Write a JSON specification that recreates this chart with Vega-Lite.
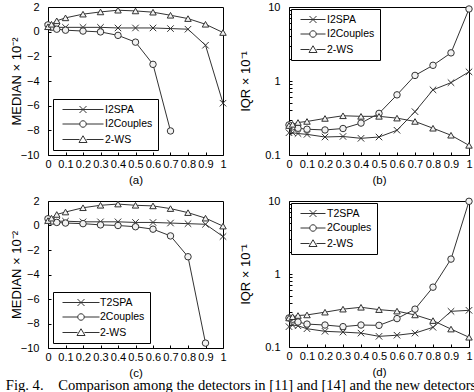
{
  "$schema": "https://vega.github.io/schema/vega-lite/v6.json",
  "padding": {"left": 5, "top": 0, "right": 0, "bottom": 0},
  "background": "white",
  "title": {"text": "Fig. 4.\u00a0\u00a0\u00a0\u00a0Comparison among the detectors in [11] and [14] and the new detectors", "orient": "bottom", "anchor": "start", "font": "Liberation Serif", "fontSize": 14.6, "fontWeight": "normal", "color": "#000", "offset": -1, "dx": -4},
  "datasets": {
    "a": [
      {"s": "I2SPA", "x": 0, "y": 0.4}, {"s": "I2SPA", "x": 0.02, "y": 0.4}, {"s": "I2SPA", "x": 0.05, "y": 0.35}, {"s": "I2SPA", "x": 0.1, "y": 0.35}, {"s": "I2SPA", "x": 0.2, "y": 0.35}, {"s": "I2SPA", "x": 0.3, "y": 0.35}, {"s": "I2SPA", "x": 0.4, "y": 0.3}, {"s": "I2SPA", "x": 0.5, "y": 0.3}, {"s": "I2SPA", "x": 0.6, "y": 0.3}, {"s": "I2SPA", "x": 0.7, "y": 0.25}, {"s": "I2SPA", "x": 0.8, "y": 0.2}, {"s": "I2SPA", "x": 0.9, "y": -1.1}, {"s": "I2SPA", "x": 1, "y": -5.8},
      {"s": "I2Couples", "x": 0, "y": 0.55}, {"s": "I2Couples", "x": 0.02, "y": 0.35}, {"s": "I2Couples", "x": 0.05, "y": 0.2}, {"s": "I2Couples", "x": 0.1, "y": 0.12}, {"s": "I2Couples", "x": 0.2, "y": 0.05}, {"s": "I2Couples", "x": 0.3, "y": -0.02}, {"s": "I2Couples", "x": 0.4, "y": -0.3}, {"s": "I2Couples", "x": 0.5, "y": -0.85}, {"s": "I2Couples", "x": 0.6, "y": -2.65}, {"s": "I2Couples", "x": 0.7, "y": -8.05},
      {"s": "2-WS", "x": 0, "y": 0.4}, {"s": "2-WS", "x": 0.02, "y": 0.6}, {"s": "2-WS", "x": 0.05, "y": 0.88}, {"s": "2-WS", "x": 0.1, "y": 1.12}, {"s": "2-WS", "x": 0.2, "y": 1.42}, {"s": "2-WS", "x": 0.3, "y": 1.6}, {"s": "2-WS", "x": 0.4, "y": 1.74}, {"s": "2-WS", "x": 0.5, "y": 1.68}, {"s": "2-WS", "x": 0.6, "y": 1.58}, {"s": "2-WS", "x": 0.7, "y": 1.33}, {"s": "2-WS", "x": 0.8, "y": 1.06}, {"s": "2-WS", "x": 0.9, "y": 0.6}, {"s": "2-WS", "x": 1, "y": -0.07}
    ],
    "b": [
      {"s": "I2SPA", "x": 0, "y": 0.2}, {"s": "I2SPA", "x": 0.02, "y": 0.2}, {"s": "I2SPA", "x": 0.05, "y": 0.195}, {"s": "I2SPA", "x": 0.1, "y": 0.19}, {"s": "I2SPA", "x": 0.2, "y": 0.175}, {"s": "I2SPA", "x": 0.3, "y": 0.178}, {"s": "I2SPA", "x": 0.4, "y": 0.168}, {"s": "I2SPA", "x": 0.5, "y": 0.175}, {"s": "I2SPA", "x": 0.6, "y": 0.216}, {"s": "I2SPA", "x": 0.7, "y": 0.385}, {"s": "I2SPA", "x": 0.8, "y": 0.76}, {"s": "I2SPA", "x": 0.9, "y": 0.95}, {"s": "I2SPA", "x": 1, "y": 1.33},
      {"s": "I2Couples", "x": 0, "y": 0.255}, {"s": "I2Couples", "x": 0.02, "y": 0.24}, {"s": "I2Couples", "x": 0.05, "y": 0.23}, {"s": "I2Couples", "x": 0.1, "y": 0.223}, {"s": "I2Couples", "x": 0.2, "y": 0.218}, {"s": "I2Couples", "x": 0.3, "y": 0.228}, {"s": "I2Couples", "x": 0.4, "y": 0.27}, {"s": "I2Couples", "x": 0.5, "y": 0.365}, {"s": "I2Couples", "x": 0.6, "y": 0.65}, {"s": "I2Couples", "x": 0.7, "y": 1.19}, {"s": "I2Couples", "x": 0.8, "y": 1.63}, {"s": "I2Couples", "x": 0.9, "y": 2.4}, {"s": "I2Couples", "x": 1, "y": 9.4},
      {"s": "2-WS", "x": 0, "y": 0.25}, {"s": "2-WS", "x": 0.02, "y": 0.26}, {"s": "2-WS", "x": 0.05, "y": 0.275}, {"s": "2-WS", "x": 0.1, "y": 0.284}, {"s": "2-WS", "x": 0.2, "y": 0.312}, {"s": "2-WS", "x": 0.3, "y": 0.339}, {"s": "2-WS", "x": 0.4, "y": 0.333}, {"s": "2-WS", "x": 0.5, "y": 0.333}, {"s": "2-WS", "x": 0.6, "y": 0.315}, {"s": "2-WS", "x": 0.7, "y": 0.284}, {"s": "2-WS", "x": 0.8, "y": 0.23}, {"s": "2-WS", "x": 0.9, "y": 0.185}, {"s": "2-WS", "x": 1, "y": 0.135}
    ],
    "c": [
      {"s": "T2SPA", "x": 0, "y": 0.4}, {"s": "T2SPA", "x": 0.02, "y": 0.4}, {"s": "T2SPA", "x": 0.05, "y": 0.35}, {"s": "T2SPA", "x": 0.1, "y": 0.35}, {"s": "T2SPA", "x": 0.2, "y": 0.3}, {"s": "T2SPA", "x": 0.3, "y": 0.3}, {"s": "T2SPA", "x": 0.4, "y": 0.3}, {"s": "T2SPA", "x": 0.5, "y": 0.25}, {"s": "T2SPA", "x": 0.6, "y": 0.25}, {"s": "T2SPA", "x": 0.7, "y": 0.2}, {"s": "T2SPA", "x": 0.8, "y": 0.15}, {"s": "T2SPA", "x": 0.9, "y": 0.1}, {"s": "T2SPA", "x": 1, "y": -0.9},
      {"s": "2Couples", "x": 0, "y": 0.55}, {"s": "2Couples", "x": 0.02, "y": 0.35}, {"s": "2Couples", "x": 0.05, "y": 0.25}, {"s": "2Couples", "x": 0.1, "y": 0.2}, {"s": "2Couples", "x": 0.2, "y": 0.15}, {"s": "2Couples", "x": 0.3, "y": 0.05}, {"s": "2Couples", "x": 0.4, "y": 0.0}, {"s": "2Couples", "x": 0.5, "y": -0.1}, {"s": "2Couples", "x": 0.6, "y": -0.3}, {"s": "2Couples", "x": 0.7, "y": -0.85}, {"s": "2Couples", "x": 0.8, "y": -2.55}, {"s": "2Couples", "x": 0.9, "y": -9.6},
      {"s": "2-WS", "x": 0, "y": 0.4}, {"s": "2-WS", "x": 0.02, "y": 0.6}, {"s": "2-WS", "x": 0.05, "y": 0.9}, {"s": "2-WS", "x": 0.1, "y": 1.1}, {"s": "2-WS", "x": 0.2, "y": 1.45}, {"s": "2-WS", "x": 0.3, "y": 1.65}, {"s": "2-WS", "x": 0.4, "y": 1.75}, {"s": "2-WS", "x": 0.5, "y": 1.65}, {"s": "2-WS", "x": 0.6, "y": 1.6}, {"s": "2-WS", "x": 0.7, "y": 1.38}, {"s": "2-WS", "x": 0.8, "y": 1.05}, {"s": "2-WS", "x": 0.9, "y": 0.6}, {"s": "2-WS", "x": 1, "y": -0.05}
    ],
    "d": [
      {"s": "T2SPA", "x": 0, "y": 0.19}, {"s": "T2SPA", "x": 0.02, "y": 0.2}, {"s": "T2SPA", "x": 0.05, "y": 0.195}, {"s": "T2SPA", "x": 0.1, "y": 0.178}, {"s": "T2SPA", "x": 0.2, "y": 0.164}, {"s": "T2SPA", "x": 0.3, "y": 0.16}, {"s": "T2SPA", "x": 0.4, "y": 0.155}, {"s": "T2SPA", "x": 0.5, "y": 0.14}, {"s": "T2SPA", "x": 0.6, "y": 0.145}, {"s": "T2SPA", "x": 0.7, "y": 0.155}, {"s": "T2SPA", "x": 0.8, "y": 0.186}, {"s": "T2SPA", "x": 0.9, "y": 0.308}, {"s": "T2SPA", "x": 1, "y": 0.318},
      {"s": "2Couples", "x": 0, "y": 0.25}, {"s": "2Couples", "x": 0.02, "y": 0.24}, {"s": "2Couples", "x": 0.05, "y": 0.22}, {"s": "2Couples", "x": 0.1, "y": 0.206}, {"s": "2Couples", "x": 0.2, "y": 0.2}, {"s": "2Couples", "x": 0.3, "y": 0.19}, {"s": "2Couples", "x": 0.4, "y": 0.2}, {"s": "2Couples", "x": 0.5, "y": 0.198}, {"s": "2Couples", "x": 0.6, "y": 0.245}, {"s": "2Couples", "x": 0.7, "y": 0.33}, {"s": "2Couples", "x": 0.8, "y": 0.66}, {"s": "2Couples", "x": 0.9, "y": 1.6}, {"s": "2Couples", "x": 1, "y": 9.9},
      {"s": "2-WS", "x": 0, "y": 0.25}, {"s": "2-WS", "x": 0.02, "y": 0.26}, {"s": "2-WS", "x": 0.05, "y": 0.27}, {"s": "2-WS", "x": 0.1, "y": 0.275}, {"s": "2-WS", "x": 0.2, "y": 0.3}, {"s": "2-WS", "x": 0.3, "y": 0.33}, {"s": "2-WS", "x": 0.4, "y": 0.35}, {"s": "2-WS", "x": 0.5, "y": 0.325}, {"s": "2-WS", "x": 0.6, "y": 0.31}, {"s": "2-WS", "x": 0.7, "y": 0.275}, {"s": "2-WS", "x": 0.8, "y": 0.23}, {"s": "2-WS", "x": 0.9, "y": 0.176}, {"s": "2-WS", "x": 1, "y": 0.136}
    ]
  },
  "vconcat": [
    {
      "hconcat": [
        {
          "width": 175, "height": 148,
          "data": {"name": "a"},
          "encoding": {
            "x": {"field": "x", "type": "quantitative", "scale": {"domain": [0, 1], "nice": false}, "axis": {"title": "(a)", "values": [0, 0.1, 0.2, 0.3, 0.4, 0.5, 0.6, 0.7, 0.8, 0.9, 1], "format": "~g"}},
            "y": {"field": "y", "type": "quantitative", "scale": {"domain": [-10, 2], "nice": false}, "axis": {"title": "MEDIAN × 10⁻²", "values": [-10, -8, -6, -4, -2, 0, 2], "titlePadding": -3}}
          },
          "layer": [
            {"mark": {"type": "line", "color": "#333", "strokeWidth": 1}, "encoding": {"detail": {"field": "s"}}},
            {"mark": {"type": "point", "filled": true, "fill": "#f2f2f2", "stroke": "#333", "strokeWidth": 1, "opacity": 1}, "encoding": {"shape": {"field": "s", "type": "nominal", "scale": {"domain": ["I2SPA", "I2Couples", "2-WS"], "range": ["M-1,-1L1,1M-1,1L1,-1", "circle", "triangle-up"]}, "legend": null}, "size": {"value": 42}}},
            {"transform": [{"filter": "false"}], "mark": {"type": "point", "filled": false, "color": "#333", "strokeWidth": 1}, "encoding": {"shape": {"field": "s", "type": "nominal", "scale": {"domain": ["I2SPA", "I2Couples", "2-WS"], "range": ["M-0.2,0H8M3.2,-0.7L4.6,0.7M3.2,0.7L4.6,-0.7", "M-0.2,0H3.25M4.55,0H8M4.55,0A0.65,0.65 0 1 1 3.25,0A0.65,0.65 0 1 1 4.55,0", "M-0.2,0H3.2M4.6,0H8M3.9,-0.75L4.7,0.6L3.1,0.6Z"]}, "legend": {"title": null, "orient": "bottom-left", "offset": 5, "labelOffset": 36}}}}
          ],
          "resolve": {"scale": {"shape": "independent"}}
        },
        {
          "width": 180, "height": 148,
          "data": {"name": "b"},
          "encoding": {
            "x": {"field": "x", "type": "quantitative", "scale": {"domain": [0, 1], "nice": false}, "axis": {"title": "(b)", "values": [0, 0.1, 0.2, 0.3, 0.4, 0.5, 0.6, 0.7, 0.8, 0.9, 1], "format": "~g"}},
            "y": {"field": "y", "type": "quantitative", "scale": {"type": "log", "domain": [0.1, 10], "nice": false}, "axis": {"title": "IQR × 10⁻¹", "values": [0.1, 0.2, 0.3, 0.4, 0.5, 0.6, 0.7, 0.8, 0.9, 1, 2, 3, 4, 5, 6, 7, 8, 9, 10], "labelExpr": "datum.value == 0.1 || datum.value == 1 || datum.value == 10 ? format(datum.value, '~g') : ''", "titlePadding": 12}}
          },
          "layer": [
            {"mark": {"type": "line", "color": "#333", "strokeWidth": 1}, "encoding": {"detail": {"field": "s"}}},
            {"mark": {"type": "point", "filled": true, "fill": "#f2f2f2", "stroke": "#333", "strokeWidth": 1, "opacity": 1}, "encoding": {"shape": {"field": "s", "type": "nominal", "scale": {"domain": ["I2SPA", "I2Couples", "2-WS"], "range": ["M-1,-1L1,1M-1,1L1,-1", "circle", "triangle-up"]}, "legend": null}, "size": {"value": 42}}},
            {"transform": [{"filter": "false"}], "mark": {"type": "point", "filled": false, "color": "#333", "strokeWidth": 1}, "encoding": {"shape": {"field": "s", "type": "nominal", "scale": {"domain": ["I2SPA", "I2Couples", "2-WS"], "range": ["M-0.2,0H4.8M1.6,-0.7L3,0.7M1.6,0.7L3,-0.7", "M-0.2,0H1.65M2.95,0H4.8M2.95,0A0.65,0.65 0 1 1 1.65,0A0.65,0.65 0 1 1 2.95,0", "M-0.2,0H1.6M3,0H4.8M2.3,-0.75L3.1,0.6L1.5,0.6Z"]}, "legend": {"title": null, "orient": "top-left", "offset": 2, "labelOffset": 20}}}}
          ],
          "resolve": {"scale": {"shape": "independent"}}
        }
      ]
    },
    {
      "hconcat": [
        {
          "width": 175, "height": 147,
          "data": {"name": "c"},
          "encoding": {
            "x": {"field": "x", "type": "quantitative", "scale": {"domain": [0, 1], "nice": false}, "axis": {"title": "(c)", "values": [0, 0.1, 0.2, 0.3, 0.4, 0.5, 0.6, 0.7, 0.8, 0.9, 1], "format": "~g"}},
            "y": {"field": "y", "type": "quantitative", "scale": {"domain": [-10, 2], "nice": false}, "axis": {"title": "MEDIAN × 10⁻²", "values": [-10, -8, -6, -4, -2, 0, 2], "titlePadding": -3}}
          },
          "layer": [
            {"mark": {"type": "line", "color": "#333", "strokeWidth": 1}, "encoding": {"detail": {"field": "s"}}},
            {"mark": {"type": "point", "filled": true, "fill": "#f2f2f2", "stroke": "#333", "strokeWidth": 1, "opacity": 1}, "encoding": {"shape": {"field": "s", "type": "nominal", "scale": {"domain": ["T2SPA", "2Couples", "2-WS"], "range": ["M-1,-1L1,1M-1,1L1,-1", "circle", "triangle-up"]}, "legend": null}, "size": {"value": 42}}},
            {"transform": [{"filter": "false"}], "mark": {"type": "point", "filled": false, "color": "#333", "strokeWidth": 1}, "encoding": {"shape": {"field": "s", "type": "nominal", "scale": {"domain": ["T2SPA", "2Couples", "2-WS"], "range": ["M-0.2,0H7.2M2.8,-0.7L4.2,0.7M2.8,0.7L4.2,-0.7", "M-0.2,0H2.85M4.15,0H7.2M4.15,0A0.65,0.65 0 1 1 2.85,0A0.65,0.65 0 1 1 4.15,0", "M-0.2,0H2.8M4.2,0H7.2M3.5,-0.75L4.3,0.6L2.7,0.6Z"]}, "legend": {"title": null, "orient": "bottom-left", "offset": 5, "labelOffset": 31}}}}
          ],
          "resolve": {"scale": {"shape": "independent"}}
        },
        {
          "width": 180, "height": 146,
          "data": {"name": "d"},
          "encoding": {
            "x": {"field": "x", "type": "quantitative", "scale": {"domain": [0, 1], "nice": false}, "axis": {"title": "(d)", "values": [0, 0.1, 0.2, 0.3, 0.4, 0.5, 0.6, 0.7, 0.8, 0.9, 1], "format": "~g"}},
            "y": {"field": "y", "type": "quantitative", "scale": {"type": "log", "domain": [0.1, 10], "nice": false}, "axis": {"title": "IQR × 10⁻¹", "values": [0.1, 0.2, 0.3, 0.4, 0.5, 0.6, 0.7, 0.8, 0.9, 1, 2, 3, 4, 5, 6, 7, 8, 9, 10], "labelExpr": "datum.value == 0.1 || datum.value == 1 || datum.value == 10 ? format(datum.value, '~g') : ''", "titlePadding": 12}}
          },
          "layer": [
            {"mark": {"type": "line", "color": "#333", "strokeWidth": 1}, "encoding": {"detail": {"field": "s"}}},
            {"mark": {"type": "point", "filled": true, "fill": "#f2f2f2", "stroke": "#333", "strokeWidth": 1, "opacity": 1}, "encoding": {"shape": {"field": "s", "type": "nominal", "scale": {"domain": ["T2SPA", "2Couples", "2-WS"], "range": ["M-1,-1L1,1M-1,1L1,-1", "circle", "triangle-up"]}, "legend": null}, "size": {"value": 42}}},
            {"transform": [{"filter": "false"}], "mark": {"type": "point", "filled": false, "color": "#333", "strokeWidth": 1}, "encoding": {"shape": {"field": "s", "type": "nominal", "scale": {"domain": ["T2SPA", "2Couples", "2-WS"], "range": ["M-0.2,0H4.8M1.6,-0.7L3,0.7M1.6,0.7L3,-0.7", "M-0.2,0H1.65M2.95,0H4.8M2.95,0A0.65,0.65 0 1 1 1.65,0A0.65,0.65 0 1 1 2.95,0", "M-0.2,0H1.6M3,0H4.8M2.3,-0.75L3.1,0.6L1.5,0.6Z"]}, "legend": {"title": null, "orient": "top-left", "offset": 2, "labelOffset": 20}}}}
          ],
          "resolve": {"scale": {"shape": "independent"}}
        }
      ]
    }
  ],
  "spacing": 8,
  "config": {
    "concat": {"spacing": 10},
    "view": {"stroke": "#000", "strokeWidth": 1},
    "axis": {"domain": false, "grid": false, "ticks": true, "tickSize": -3, "tickColor": "#000", "labelFont": "Liberation Sans", "labelFontSize": 11, "labelColor": "#000", "labelPadding": 12, "titleFont": "Liberation Sans", "titleFontSize": 13, "titleFontWeight": "normal", "titleColor": "#000", "labelOverlap": false, "labelFlush": false, "labelBound": false},
    "axisX": {"labelPadding": 6, "titlePadding": 5, "titleFont": "Liberation Sans", "titleFontSize": 11.5},
    "legend": {"padding": 5, "rowPadding": 3.5, "strokeColor": "#000", "fillColor": "#fff", "cornerRadius": 0, "symbolSize": 100, "symbolStrokeWidth": 1, "symbolOpacity": 1, "symbolStrokeColor": "#333", "labelFont": "Liberation Sans", "labelFontSize": 10.5, "labelColor": "#000"}
  }
}
